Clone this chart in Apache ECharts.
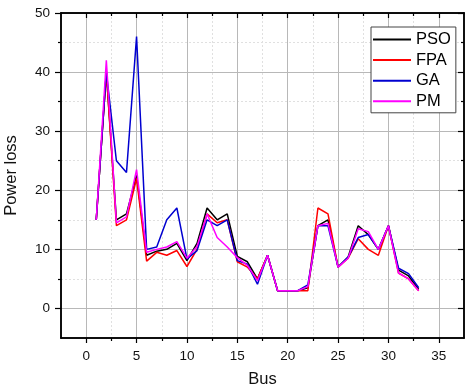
<!DOCTYPE html>
<html><head><meta charset="utf-8">
<script src="https://cdn.jsdelivr.net/npm/echarts@6/dist/echarts.min.js"></script>
<style>html,body{margin:0;padding:0;background:#fff}#c{width:474px;height:389px}</style>
</head><body><div id="c"></div>
<script>
const buses = [1,2,3,4,5,6,7,8,9,10,11,12,13,14,15,16,17,18,19,20,21,22,23,24,25,26,27,28,29,30,31,32,33];
const pso = [15,40,15,16,22.5,9,9.7,10,11,8.1,11,17,15,16,8.8,7.9,5,9,3,3,3,3.5,14,15,7,8.7,14,12.5,10,14,6.5,5.5,3.2];
const fpa = [15,40,14,15,22,8,9.5,9,9.8,7.1,10,16,14.5,15,7.9,7,5,9,3,3,3,3,17,16,7,8.5,11.8,10,9,14,6,5,3];
const ga  = [15,40,25,23,46,10,10.4,15,17,8.4,9.8,15,14,15,8.1,7.5,4.1,9,3,3,3,4,14,14,7,8.7,12,12.5,10,14,6.8,5.9,3.5];
const pm  = [15,42,14.5,15.5,23.5,9.5,10,10.4,11.3,8.5,10.5,16,12,10.4,8.6,7.3,4.7,9,3,3,3,3.7,14,14.4,7,8.5,13.5,13,10,14,6,5,3];
const xMajor = [0,5,10,15,20,25,30,35];
const xMinor = [2.5,7.5,12.5,17.5,22.5,27.5,32.5];
const yMajor = [0,10,20,30,40,50];
const yMinor = [5,15,25,35,45];
const seriesNames = ['PSO','FPA','GA','PM'];
const seriesData = [pso, fpa, ga, pm];
const seriesColors = ['#000000','#ff0000','#0000d0','#ff00ff'];

const FONT = 'Liberation Sans, Arial, sans-serif';
const gridRect = {left:61, right:10, top:13, bottom:51, containLabel:false, outerBoundsMode:'none'};
const lineStyle = {color:'#000', width:1.5};

function xAx(gridIndex, position, ticks, major, showLabel) {
  return {
    type:'value', gridIndex, position, min:-2.5, max:37.5,
    axisLine:{show:true, onZero:false, lineStyle},
    axisTick:{show:true, inside: position==='top', length: major?5:3, customValues: ticks, lineStyle:{color:'#000', width:1.2}},
    axisLabel:{show:showLabel, customValues: ticks, fontFamily:FONT, fontSize:13.5, color:'#111', margin:11},
    splitLine: position==='bottom' ? {show:true, lineStyle: major ? {color:'#b8b8b8', width:1, type:'solid'} : {color:'#e0e0e0', width:1, type:[2,2]}} : {show:false},
    name: showLabel ? 'Bus' : '', nameLocation:'middle', nameGap:33,
    nameTextStyle:{fontFamily:FONT, fontSize:16.5, color:'#111'}
  };
}
function yAx(gridIndex, position, ticks, major, showLabel) {
  return {
    type:'value', gridIndex, position, min:-5, max:50,
    axisLine:{show:true, onZero:false, lineStyle},
    axisTick:{show:true, inside: position==='right', length: major?6:3, customValues: ticks, lineStyle:{color:'#000', width:1.2}},
    axisLabel:{show:showLabel, customValues: ticks, fontFamily:FONT, fontSize:13.5, color:'#111', margin:11},
    splitLine: position==='left' ? {show:true, lineStyle: major ? {color:'#b8b8b8', width:1, type:'solid'} : {color:'#e0e0e0', width:1, type:[2,2]}} : {show:false},
    name: showLabel ? 'Power loss' : '', nameLocation:'middle', nameGap:41,
    nameTextStyle:{fontFamily:FONT, fontSize:16.5, color:'#111'}
  };
}

const chart = echarts.init(document.getElementById('c'), null, {renderer:'canvas'});
chart.setOption({
  animation:false,
  backgroundColor:'#fff',
  grid:[Object.assign({}, gridRect), Object.assign({}, gridRect)],
  xAxis:[
    xAx(0,'bottom',xMajor,true,true),
    xAx(0,'top',xMajor,true,false),
    xAx(1,'bottom',xMinor,false,false),
    xAx(1,'top',xMinor,false,false)
  ],
  yAxis:[
    yAx(0,'left',yMajor,true,true),
    yAx(0,'right',yMajor,true,false),
    yAx(1,'left',yMinor,false,false),
    yAx(1,'right',yMinor,false,false)
  ],
  legend:{
    data: seriesNames, orient:'vertical', left:371, top:27,
    padding:[4,5,3,2], itemGap:3.6, itemWidth:38, itemHeight:2, icon:'rect',
    itemStyle:{borderWidth:0},
    borderColor:'#444', borderWidth:1, backgroundColor:'#fff',
    textStyle:{fontFamily:FONT, fontSize:16.5, color:'#000', lineHeight:16}
  },
  series: seriesNames.map((n,i)=>({
    name:n, type:'line', xAxisIndex:0, yAxisIndex:0,
    data: buses.map((b,j)=>[b, seriesData[i][j]]),
    showSymbol:false, symbol:'none',
    lineStyle:{color:seriesColors[i], width:1.5},
    itemStyle:{color:seriesColors[i]},
    z: 3+i
  }))
});
</script></body></html>
